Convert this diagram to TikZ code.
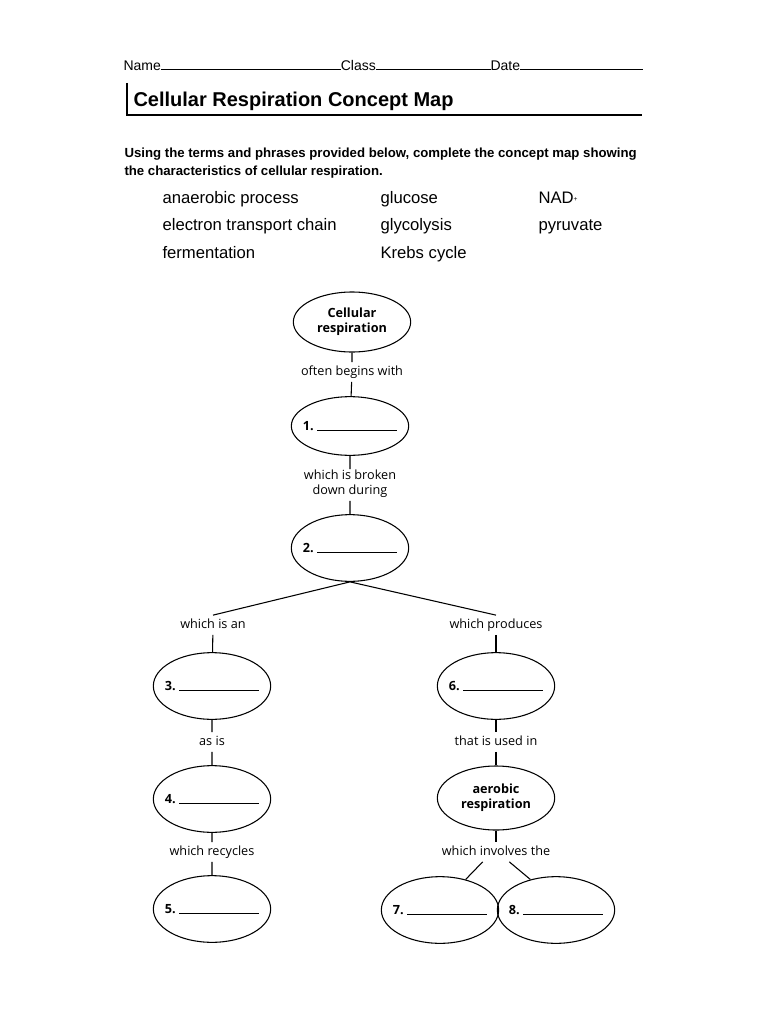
\documentclass[tikz,border=0pt]{standalone}
\usepackage{fontspec}
\setmainfont{Open Sans}
\newfontfamily\hdfont{Liberation Sans}
\usetikzlibrary{shapes.geometric}

\tikzset{
  bubble/.style={draw, ellipse, line width=0.8pt, inner xsep=-5pt, inner ysep=0pt, minimum width=88pt, minimum height=50pt, font=\fontsize{9.5}{11}\selectfont},
  link/.style={inner sep=2.5pt, align=center, text height=7pt, text depth=2pt, font=\fontsize{9.5}{11}\selectfont},
  term/.style={anchor=base west, inner sep=0pt, font=\hdfont\fontsize{12.5}{14}\selectfont},
}
\newcommand{\blankline}[1]{\textbf{#1.}~\rule{60pt}{0.6pt}}

\begin{document}
\begin{tikzpicture}[x=0.75pt, y=-0.75pt, line width=0.8pt]
\useasboundingbox (0,0) rectangle (768,1024);
%Header
\node [anchor=base west, inner sep=0pt, font=\hdfont\fontsize{10.5}{12}\selectfont] (namerow) at (123,70) {Name\rule{135pt}{0.5pt}Class\rule{86pt}{0.5pt}Date\rule{92pt}{0.5pt}};
\draw [line width=2.2pt] (127,83) -- (127,116);
\draw (127,115) -- (642,115);
\node [anchor=base west, inner sep=0pt, font=\hdfont\bfseries\fontsize{15}{17}\selectfont] (title) at (133,107) {Cellular Respiration Concept Map};
\node [anchor=base west, inner sep=0pt, font=\hdfont\bfseries\fontsize{9.9}{12}\selectfont] (intro1) at (124,157) {Using the terms and phrases provided below, complete the concept map showing};
\node [anchor=base west, inner sep=0pt, font=\hdfont\bfseries\fontsize{9.9}{12}\selectfont] (intro2) at (124,175) {the characteristics of cellular respiration.};
%Terms
\node [term] (t1) at (162,203) {anaerobic process};
\node [term] (t2) at (162,230) {electron transport chain};
\node [term] (t3) at (162,258) {fermentation};
\node [term] (t4) at (380,203) {glucose};
\node [term] (t5) at (380,230) {glycolysis};
\node [term] (t6) at (380,258) {Krebs cycle};
\node [term] (t7) at (538,203) {NAD\raisebox{1.5pt}{\tiny +}};
\node [term] (t8) at (538,230) {pyruvate};
%Map
\node [bubble, minimum height=45pt, align=center, font=\bfseries\fontsize{9.5}{11}\selectfont] (cellresp) at (352,322) {Cellular\\respiration};
\node [link] (begins) at (352,372) {often begins with};
\node [bubble, minimum height=44pt] (e1) at (350,426) {\blankline{1}};
\node [link, text height=16pt] (broken) at (350,485) {which is broken\\down during};
\node [bubble, minimum height=50pt] (e2) at (350,548) {\blankline{2}};
\node [link] (isan) at (213,625) {which is an};
\node [link] (produces) at (496,625) {which produces};
\node [bubble] (e3) at (212,686) {\blankline{3}};
\node [link] (asis) at (212,742) {as is};
\node [bubble] (e4) at (212,799) {\blankline{4}};
\node [link] (recycles) at (212,852) {which recycles};
\node [bubble] (e5) at (212,909) {\blankline{5}};
\node [bubble] (e6) at (496,686) {\blankline{6}};
\node [link] (usedin) at (496,742) {that is used in};
\node [bubble, minimum height=48pt, align=center, font=\bfseries\fontsize{9.5}{11}\selectfont] (aerobic) at (496,798) {aerobic\\respiration};
\node [link] (involves) at (496,852) {which involves the};
\node [bubble] (e7) at (440,910) {\blankline{7}};
\node [bubble] (e8) at (556,910) {\blankline{8}};
\coordinate (invL) at ([xshift=-10pt]involves.south);
\coordinate (invR) at ([xshift=10pt]involves.south);
%Links
\draw (cellresp) -- (begins) -- (e1) -- (broken) -- (e2);
\draw (e2.south) -- (isan.north);
\draw (e2.south) -- (produces.north);
\draw (isan) -- (e3) -- (asis) -- (e4) -- (recycles) -- (e5);
\draw (produces) -- (e6) -- (usedin) -- (aerobic) -- (involves);
\draw (invL) -- (e7.50);
\draw (invR) -- (e8.130);
\end{tikzpicture}
\end{document}
